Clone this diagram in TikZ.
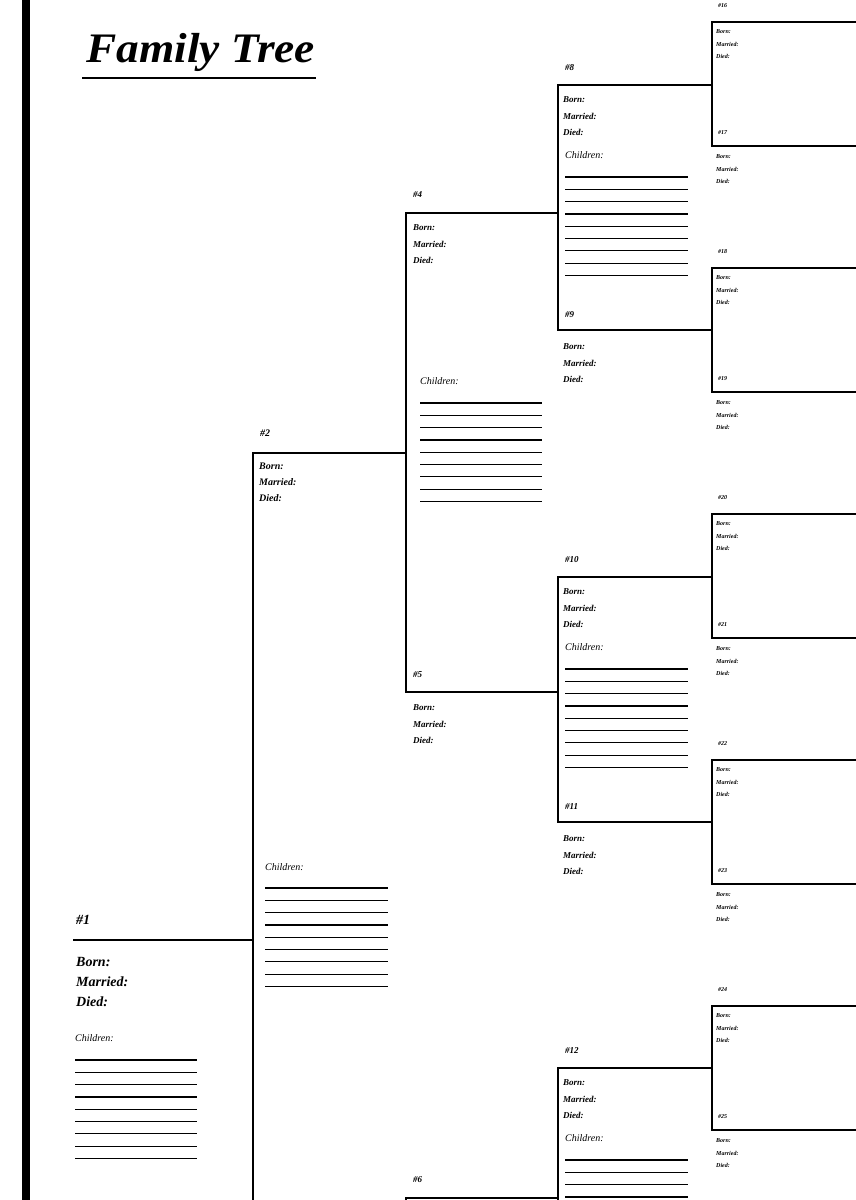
\documentclass[tikz,border=0pt]{standalone}
\usepackage{fontspec}
\setmainfont{Liberation Serif}
\begin{document}
\begin{tikzpicture}[x=1pt,y=-1pt,
  br/.style={line width=2.8pt},
  cl/.style={line width=1.2pt},
  lab/.style={anchor=west,inner sep=0pt,font=\bfseries\itshape\fontsize{#1}{#1}\selectfont},
  lab/.default=10]
\useasboundingbox (0,0) rectangle (856,1200);
\clip (0,0) rectangle (856,1200);
\fill[black] (22,0) rectangle (30,1200);
% title
\node[anchor=west,inner sep=0pt,font=\bfseries\itshape\fontsize{42}{42}\selectfont,xscale=1.08] (title) at (86,52) {Family Tree};
\draw[line width=1.8pt] (82,78) -- (316,78);
% #1
\node[lab=14] (n1) at (76,920) {\#1};
\draw[br] (73,940) -- (253,940);
\node[lab=14] (b1) at (76,962) {Born:};
\node[lab=14] (m1) at (76,982) {Married:};
\node[lab=14] (d1) at (76,1002) {Died:};
\node[lab=10,font=\itshape\fontsize{10}{10}\selectfont] (c1) at (75,1038) {Children:};
\foreach \i in {0,...,8} \draw[cl] (75,1060+\i*12.3) -- (197,1060+\i*12.3);
% #2
\draw[br] (253,1210) -- (253,453) -- (406,453);
\node[lab=10] (n2) at (260,433) {\#2};
\node[lab=10] (b2) at (259,466) {Born:};
\node[lab=10] (m2) at (259,482) {Married:};
\node[lab=10] (d2) at (259,498) {Died:};
\node[lab=10,font=\itshape\fontsize{10}{10}\selectfont] (c2) at (265,867) {Children:};
\foreach \i in {0,...,8} \draw[cl] (265,888+\i*12.3) -- (388,888+\i*12.3);
% #4/#5
\draw[br] (558,213) -- (406,213) -- (406,692) -- (558,692);
\node[lab=9] (n4) at (413,195) {\#4};
\node[lab=9] (b4) at (413,228) {Born:};
\node[lab=9] (m4) at (413,244) {Married:};
\node[lab=9] (d4) at (413,260) {Died:};
\node[lab=10,font=\itshape\fontsize{10}{10}\selectfont] (c4) at (420,381) {Children:};
\foreach \i in {0,...,8} \draw[cl] (420,403+\i*12.3) -- (542,403+\i*12.3);
\node[lab=9] (n5) at (413,675) {\#5};
\node[lab=9] (b5) at (413,708) {Born:};
\node[lab=9] (m5) at (413,724) {Married:};
\node[lab=9] (d5) at (413,740) {Died:};
% #6
\draw[br] (406,1210) -- (406,1198) -- (558,1198);
\node[lab=9] (n6) at (413,1180) {\#6};
% column 3 brackets
\foreach \t/\a/\b in {85/8/9,577/10/11,1068/12/13} {
  \pgfmathsetmacro{\bt}{\t+245}
  \ifnum\a=12
    \draw[br] (712,\t) -- (558,\t) -- (558,1210);
  \else
    \draw[br] (712,\t) -- (558,\t) -- (558,\bt) -- (712,\bt);
    \node[lab=9] (n\b) at (565,\bt-15) {\#\b};
    \node[lab=9] (b\b) at (563,\bt+17) {Born:};
    \node[lab=9] (m\b) at (563,\bt+33) {Married:};
    \node[lab=9] (d\b) at (563,\bt+49) {Died:};
  \fi
  \node[lab=9] (n\a) at (565,\t-17) {\#\a};
  \node[lab=9] (b\a) at (563,\t+15) {Born:};
  \node[lab=9] (m\a) at (563,\t+31) {Married:};
  \node[lab=9] (d\a) at (563,\t+47) {Died:};
  \node[lab=10,font=\itshape\fontsize{10}{10}\selectfont] (c\a) at (565,\t+70) {Children:};
  \foreach \i in {0,...,8} \draw[cl] (565,\t+92+\i*12.3) -- (688,\t+92+\i*12.3);
}
% column 4
\foreach \t/\a/\b in {22/16/17,268/18/19,514/20/21,760/22/23,1006/24/25} {
  \pgfmathsetmacro{\bt}{\t+124}
  \draw[br] (870,\t) -- (712,\t) -- (712,\bt) -- (870,\bt);
  \node[lab=6] (n\a) at (718,\t-16) {\#\a};
  \node[lab=6] (b\a) at (716,\t+10) {Born:};
  \node[lab=6] (m\a) at (716,\t+22) {Married:};
  \node[lab=6] (d\a) at (716,\t+34) {Died:};
  \node[lab=6] (n\b) at (718,\bt-13) {\#\b};
  \node[lab=6] (b\b) at (716,\bt+11) {Born:};
  \node[lab=6] (m\b) at (716,\bt+23) {Married:};
  \node[lab=6] (d\b) at (716,\bt+35) {Died:};
}
\end{tikzpicture}
\end{document}
